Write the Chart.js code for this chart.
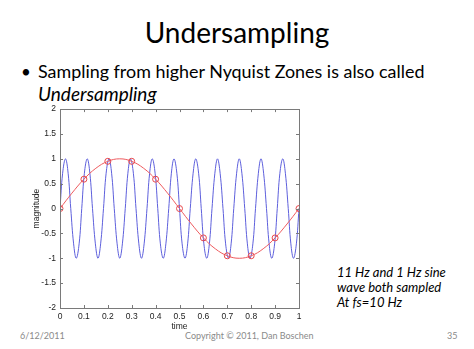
<!DOCTYPE html>
<html>
<head>
<meta charset="utf-8">
<script src="https://cdn.jsdelivr.net/npm/chart.js@4.4.1/dist/chart.umd.min.js"></script>
<style>
  html, body { margin: 0; padding: 0; background: #fff; }
  body { width: 474px; height: 349px; position: relative; overflow: hidden; font-family: Lato, "Open Sans", sans-serif; }
  .txt { position: absolute; white-space: nowrap; line-height: 1; }
  #titre { left: 0; width: 474px; text-align: center; top: 18px; font-size: 28px; color: #000; }
  #puce { left: 21px; top: 63px; font-size: 17px; color: #000; }
  #ligne1 { left: 38px; top: 63px; font-size: 17.9px; color: #000; }
  #ligne2 { left: 38px; top: 84px; font-size: 19px; font-style: italic; color: #000; }
  #note { left: 337px; top: 265px; font-size: 13px; font-style: italic; line-height: 15px; color: #000; }
  .pied { top: 331px; font-size: 9px; color: #8a8a8a; }
  #graph { position: absolute; left: 0; top: 100px; width: 310px; height: 235px; }
</style>
</head>
<body>
<div class="txt" id="titre">Undersampling</div>
<div class="txt" id="puce">•</div>
<div class="txt" id="ligne1">Sampling from higher Nyquist Zones is also called</div>
<div class="txt" id="ligne2">Undersampling</div>
<div class="txt" id="note">11 Hz and 1 Hz sine<br>wave both sampled<br>At fs=10 Hz</div>
<div class="txt pied" style="left:20px">6/12/2011</div>
<div class="txt pied" style="left:185px">Copyright © 2011, Dan Boschen</div>
<div class="txt pied" style="left:447px">35</div>
<canvas id="graph" width="310" height="235"></canvas>
<script>
// onde à 11 Hz : temps et amplitudes relevés (8 points par période)
const tempsBleu = [
  0, 0.011, 0.023, 0.034, 0.045, 0.057, 0.068, 0.080, 0.091, 0.102,
  0.114, 0.125, 0.136, 0.148, 0.159, 0.170, 0.182, 0.193, 0.205, 0.216,
  0.227, 0.239, 0.250, 0.261, 0.273, 0.284, 0.295, 0.307, 0.318, 0.330,
  0.341, 0.352, 0.364, 0.375, 0.386, 0.398, 0.409, 0.420, 0.432, 0.443,
  0.455, 0.466, 0.477, 0.489, 0.500, 0.511, 0.523, 0.534, 0.545, 0.557,
  0.568, 0.580, 0.591, 0.602, 0.614, 0.625, 0.636, 0.648, 0.659, 0.670,
  0.682, 0.693, 0.705, 0.716, 0.727, 0.739, 0.750, 0.761, 0.773, 0.784,
  0.795, 0.807, 0.818, 0.830, 0.841, 0.852, 0.864, 0.875, 0.886, 0.898,
  0.909, 0.920, 0.932, 0.943, 0.955, 0.966, 0.977, 0.989, 1.000
];
const valeursBleu = [
  0, 0.71, 1, 0.71, 0, -0.71, -1, -0.71,
  0, 0.71, 1, 0.71, 0, -0.71, -1, -0.71,
  0, 0.71, 1, 0.71, 0, -0.71, -1, -0.71,
  0, 0.71, 1, 0.71, 0, -0.71, -1, -0.71,
  0, 0.71, 1, 0.71, 0, -0.71, -1, -0.71,
  0, 0.71, 1, 0.71, 0, -0.71, -1, -0.71,
  0, 0.71, 1, 0.71, 0, -0.71, -1, -0.71,
  0, 0.71, 1, 0.71, 0, -0.71, -1, -0.71,
  0, 0.71, 1, 0.71, 0, -0.71, -1, -0.71,
  0, 0.71, 1, 0.71, 0, -0.71, -1, -0.71,
  0, 0.71, 1, 0.71, 0, -0.71, -1, -0.71,
  0
];

// onde à 1 Hz
const tempsRouge = [
  0, 0.05, 0.1, 0.15, 0.2, 0.25, 0.3, 0.35, 0.4, 0.45, 0.5,
  0.55, 0.6, 0.65, 0.7, 0.75, 0.8, 0.85, 0.9, 0.95, 1
];
const valeursRouge = [
  0, 0.31, 0.59, 0.81, 0.95, 1, 0.95, 0.81, 0.59, 0.31, 0,
  -0.31, -0.59, -0.81, -0.95, -1, -0.95, -0.81, -0.59, -0.31, 0
];

// échantillons à fs = 10 Hz
const tempsEchant = [0, 0.1, 0.2, 0.3, 0.4, 0.5, 0.6, 0.7, 0.8, 0.9, 1];
const valeursEchant = [0, 0.59, 0.95, 0.95, 0.59, 0, -0.59, -0.95, -0.95, -0.59, 0];

function enPoints(xs, ys) {
  return xs.map((x, i) => ({ x: x, y: ys[i] }));
}

// étiquettes sans zéros inutiles (2, 1.5, 0.1 ...)
function etiquette(v) {
  return String(Number(v.toFixed(2)));
}

// Cadre et graduations vers l'intérieur, façon Matlab
const cadre = {
  id: "cadre",
  afterDraw(chart) {
    const { ctx, chartArea: a, scales } = chart;
    const lg = 3;
    ctx.save();
    ctx.strokeStyle = "#7a7a7a";
    ctx.lineWidth = 1;
    ctx.beginPath();
    scales.x.ticks.forEach((t) => {
      const px = Math.round(scales.x.getPixelForValue(t.value)) + 0.5;
      ctx.moveTo(px, a.bottom); ctx.lineTo(px, a.bottom - lg);
      ctx.moveTo(px, a.top); ctx.lineTo(px, a.top + lg);
    });
    scales.y.ticks.forEach((t) => {
      const py = Math.round(scales.y.getPixelForValue(t.value)) + 0.5;
      ctx.moveTo(a.left, py); ctx.lineTo(a.left + lg, py);
      ctx.moveTo(a.right, py); ctx.lineTo(a.right - lg, py);
    });
    ctx.stroke();
    ctx.strokeRect(Math.round(a.left) + 0.5, Math.round(a.top) + 0.5,
      Math.round(a.right - a.left), Math.round(a.bottom - a.top));
    ctx.restore();
  },
};

const policeAxe = { family: "'Liberation Sans', Arial, sans-serif", size: 8.5 };

new Chart(document.getElementById("graph"), {
  type: "scatter",
  data: {
    datasets: [
      {
        // cercles des échantillons
        data: enPoints(tempsEchant, valeursEchant),
        showLine: false,
        pointStyle: "circle",
        pointRadius: 3,
        pointBorderWidth: 1,
        pointBorderColor: "#e8474a",
        pointBackgroundColor: "rgba(0,0,0,0)",
        order: 1,
      },
      {
        data: enPoints(tempsRouge, valeursRouge),
        showLine: true,
        borderColor: "#ee5a5e",
        borderWidth: 1,
        tension: 0.4,
        pointRadius: 0,
        order: 2,
      },
      {
        data: enPoints(tempsBleu, valeursBleu),
        showLine: true,
        borderColor: "#5d5fdc",
        borderWidth: 1,
        tension: 0.4,
        pointRadius: 0,
        order: 3,
      },
    ],
  },
  options: {
    responsive: false,
    animation: false,
    events: [],
    layout: { padding: { top: 9, right: 11, left: 0, bottom: 0 } },
    plugins: { legend: { display: false }, tooltip: { enabled: false } },
    scales: {
      x: {
        type: "linear",
        min: 0,
        max: 1,
        grid: { display: false, drawTicks: false },
        border: { display: false },
        ticks: { stepSize: 0.1, padding: 4, color: "#222", font: policeAxe, maxRotation: 0, callback: etiquette },
        title: { display: true, text: "time", color: "#222", font: policeAxe, padding: { top: 0, bottom: 3 } },
        afterFit(scale) { scale.height = 27; },
      },
      y: {
        min: -2,
        max: 2,
        grid: { display: false, drawTicks: false },
        border: { display: false },
        ticks: { stepSize: 0.5, padding: 4, color: "#222", font: policeAxe, callback: etiquette },
        title: { display: true, text: "magnitude", color: "#222", font: policeAxe, padding: { top: 32, bottom: 0 } },
        afterFit(scale) { scale.width = 60; },
      },
    },
  },
  plugins: [cadre],
});
</script>
</body>
</html>
